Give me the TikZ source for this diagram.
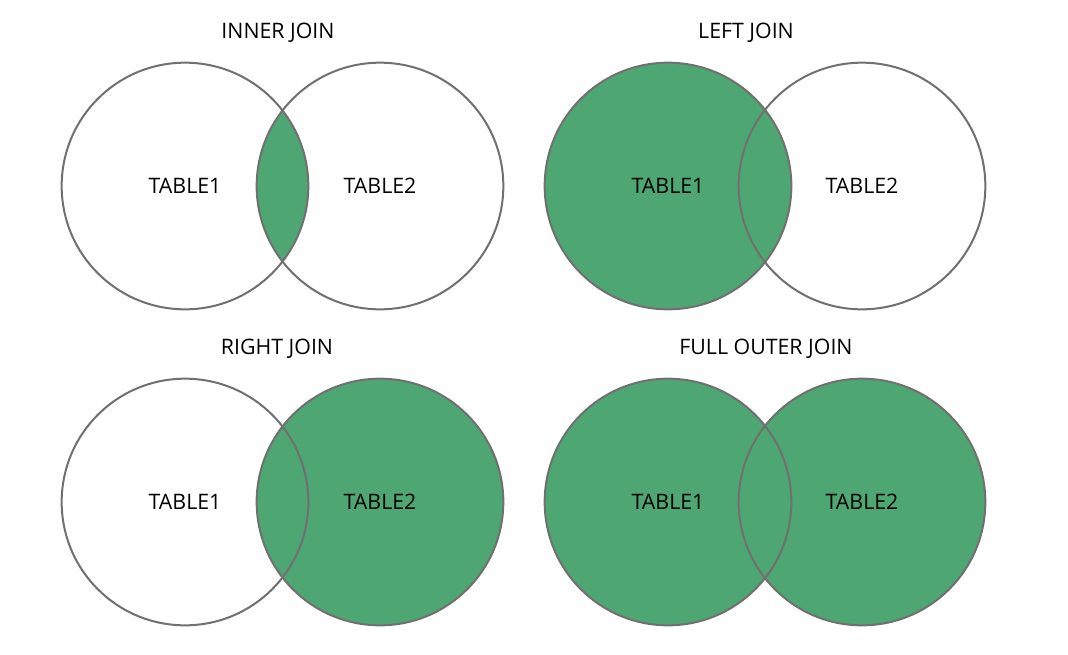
\documentclass[tikz,border=0pt]{standalone}
\usepackage{fontspec}
\setmainfont{Open Sans}
\definecolor{joingreen}{HTML}{4EA672}
\definecolor{rimgray}{HTML}{707070}
\tikzset{
  venn/.style={circle,draw=rimgray,line width=1.5pt,minimum size=185pt,inner sep=0pt},
  tabtext/.style={font=\fontsize{16}{19}\selectfont},
  jointitle/.style={font=\fontsize{16}{19}\selectfont}
}
\begin{document}
\begin{tikzpicture}[x=0.75pt,y=-0.75pt]
  \useasboundingbox (0,0) rectangle (1068,654);
  \fill[white] (0,0) rectangle (1068,654);

  % fills
  \begin{scope}
    \clip (185,186) circle (123);
    \fill[joingreen] (380,186) circle (123);
  \end{scope}
  \fill[joingreen] (668,186) circle (123);
  \fill[joingreen] (380,502) circle (123);
  \fill[joingreen] (668,502) circle (123);
  \fill[joingreen] (862,502) circle (123);

  % circles
  \node[venn] (i1) at (185,186) {};
  \node[venn] (i2) at (380,186) {};
  \node[venn] (l1) at (668,186) {};
  \node[venn] (l2) at (862,186) {};
  \node[venn] (r1) at (185,502) {};
  \node[venn] (r2) at (380,502) {};
  \node[venn] (f1) at (668,502) {};
  \node[venn] (f2) at (862,502) {};

  % labels
  \node[tabtext] at (i1) {TABLE1};
  \node[tabtext] at (i2) {TABLE2};
  \node[tabtext] at (l1) {TABLE1};
  \node[tabtext] at (l2) {TABLE2};
  \node[tabtext] at (r1) {TABLE1};
  \node[tabtext] at (r2) {TABLE2};
  \node[tabtext] at (f1) {TABLE1};
  \node[tabtext] at (f2) {TABLE2};

  % titles
  \node[jointitle] (tinner) at (278,33) {INNER JOIN};
  \node[jointitle] (tleft) at (746,33) {LEFT JOIN};
  \node[jointitle] (tright) at (277,349) {RIGHT JOIN};
  \node[jointitle] (tfull) at (766,349) {FULL OUTER JOIN};
\end{tikzpicture}
\end{document}
